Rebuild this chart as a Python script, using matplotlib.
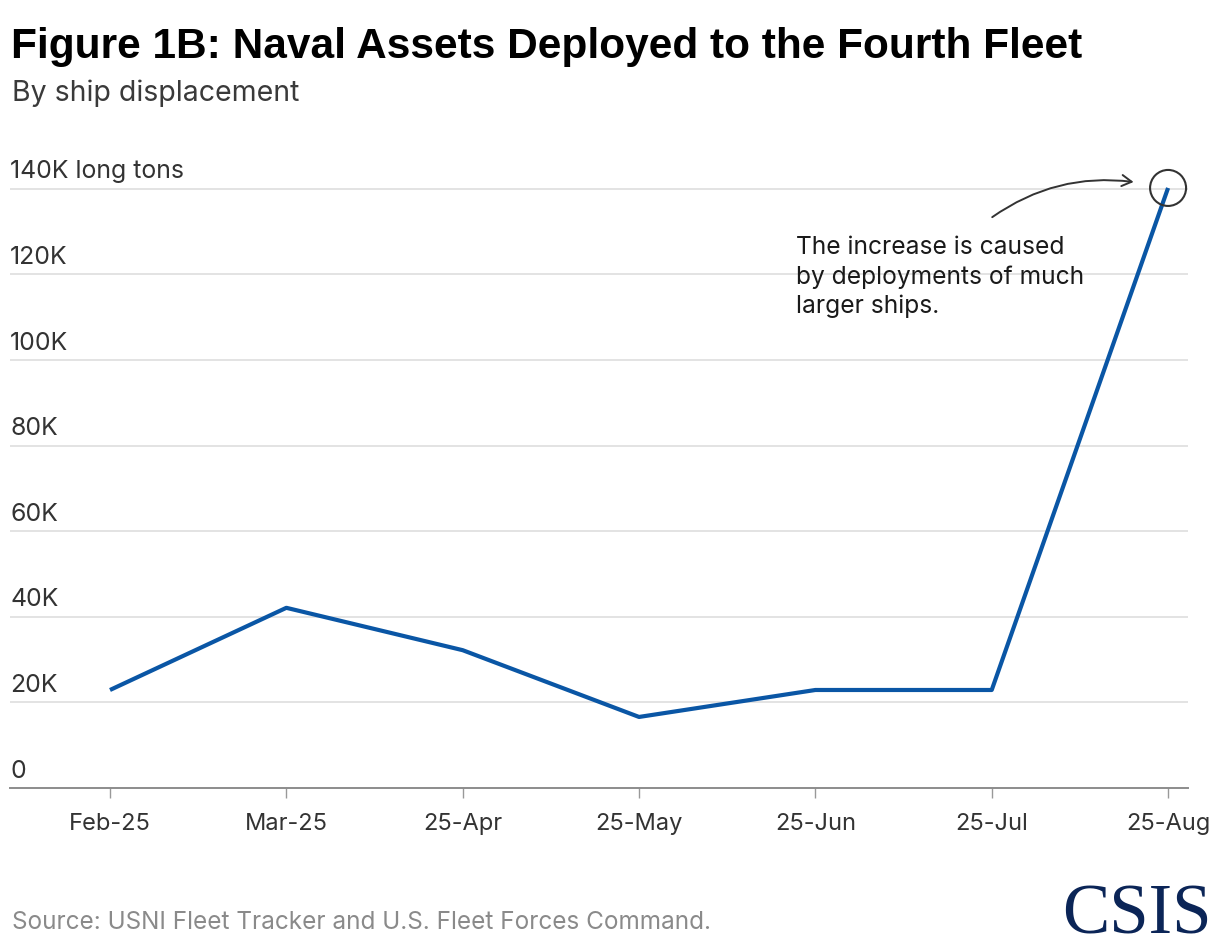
import matplotlib.pyplot as plt
from matplotlib.patches import Ellipse

months = ["Feb-25", "Mar-25", "25-Apr", "25-May", "25-Jun", "25-Jul", "25-Aug"]
displacement = [22900, 42100, 32200, 16600, 22900, 22900, 140200]
y_ticks = [0, 20000, 40000, 60000, 80000, 100000, 120000, 140000]
y_tick_labels = ["0", "20K", "40K", "60K", "80K", "100K", "120K", "140K long tons"]

W, H = 1220, 948
BODY = ["Inter", "DejaVu Sans"]
LINE_BLUE = "#0a56a5"

plt.rcParams["font.family"] = BODY

fig = plt.figure(figsize=(W / 100, H / 100), dpi=100)

# axes placed in pixel terms: x from 10 to 1188, y=0 at 788, top at 146
left, right, bottom_px, top_px = 10, 1188, 788, 146
ax = fig.add_axes([left / W, 1 - bottom_px / H, (right - left) / W, (bottom_px - top_px) / H])

x = list(range(len(months)))
ax.plot(x, displacement, color=LINE_BLUE, lw=3, solid_capstyle="butt", zorder=3)

ax.set_xlim(-0.567, 6.113)
ax.set_ylim(0, 150000)

for t in y_ticks[1:]:
    ax.axhline(t, color="#e3e3e3", lw=1.4, zorder=1)
for t, lab in zip(y_ticks, y_tick_labels):
    ax.annotate(lab, xy=(0, t), xycoords=ax.get_yaxis_transform(),
                xytext=(0, 7.5), textcoords="offset points",
                ha="left", va="baseline", fontsize=17.9, color="#333333")

ax.set_yticks([])
ax.set_xticks(x)
ax.set_xticklabels(months, fontsize=17, color="#333333")
ax.tick_params(axis="x", length=7, width=1, color="#999999", pad=11)
for side in ["top", "right", "left"]:
    ax.spines[side].set_visible(False)
ax.spines["bottom"].set_color("#8c8c8c")
ax.spines["bottom"].set_linewidth(1.4)

# highlight circle around the last point (drawn in pixel size)
ax.add_patch(Ellipse((x[-1], displacement[-1]), width=36 * 6.68 / 1178, height=36 * 150000 / 642,
                     fill=False, edgecolor="#333333", lw=1.5, zorder=4))

ax.annotate("", xy=(5.82, 141500), xytext=(4.99, 133000),
            arrowprops=dict(arrowstyle="->,head_length=0.7,head_width=0.4", color="#333333",
                            lw=1.4, connectionstyle="arc3,rad=-0.2"))
ax.text(3.891, 128900, "The increase is caused\nby deployments of much\nlarger ships.",
        fontsize=17.7, color="#1a1a1a", ha="left", va="top", linespacing=1.32)

fig.text(11 / W, 1 - 58 / H, "Figure 1B: Naval Assets Deployed to the Fourth Fleet",
         fontsize=30.5, fontweight="bold", family=["Liberation Sans", "DejaVu Sans"], color="#000000",
         ha="left", va="baseline")
fig.text(12 / W, 1 - 101 / H, "By ship displacement", fontsize=20.5, color="#3a3a3a",
         ha="left", va="baseline")
fig.text(12 / W, 1 - 929 / H, "Source: USNI Fleet Tracker and U.S. Fleet Forces Command.",
         fontsize=17.5, color="#8a8a8a", ha="left", va="baseline")
fig.text(1212 / W, 1 - 934 / H, "CSIS", fontsize=51, color="#0b2557",
         family=["Liberation Serif", "DejaVu Serif"], ha="right", va="baseline")

fig.savefig("out.png", dpi=100, facecolor="white")
